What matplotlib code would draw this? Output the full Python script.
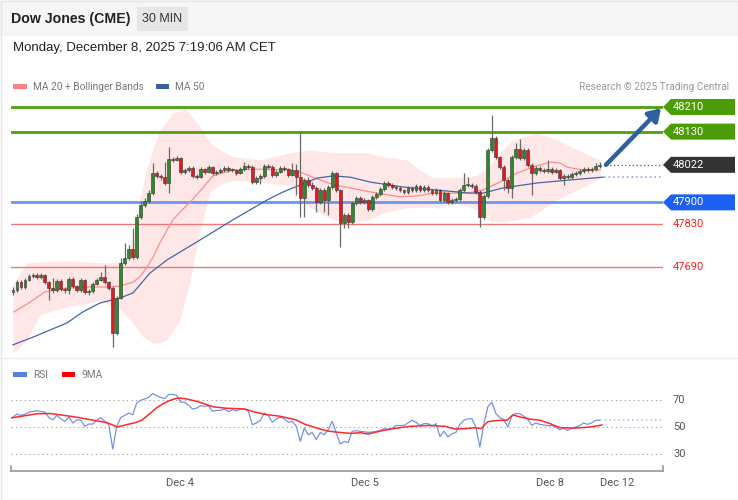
import numpy as np
import matplotlib
matplotlib.use("Agg")
import matplotlib.pyplot as plt
from matplotlib.patches import Rectangle, Polygon

plt.rcParams["font.family"] = ["Liberation Sans", "DejaVu Sans"]

# ---- price data (30 min candles) ----
first_open = 47608
closes = [47615, 47641, 47625, 47648, 47661, 47664, 47657, 47664, 47641, 47622,
          47615, 47644, 47618, 47615, 47651, 47628, 47615, 47648, 47609, 47612,
          47635, 47648, 47657, 47641, 47622, 47475, 47589, 47703, 47719, 47749,
          47722, 47852, 47891, 47904, 47930, 47995, 47986, 47982, 47963, 48041,
          48038, 48044, 47999, 48005, 48012, 47986, 47982, 48008, 47999, 48015,
          47995, 47999, 48005, 48012, 48005, 48005, 47995, 48008, 48018, 48015,
          47966, 47979, 47986, 48018, 48015, 47989, 47999, 48012, 48008, 47989,
          48005, 47982, 47914, 47973, 47957, 47947, 47901, 47940, 47908, 47950,
          47995, 47940, 47833, 47859, 47836, 47898, 47914, 47901, 47908, 47879,
          47918, 47927, 47944, 47963, 47957, 47950, 47947, 47940, 47934, 47947,
          47940, 47953, 47940, 47950, 47940, 47930, 47940, 47908, 47930, 47901,
          47908, 47911, 47940, 47957, 47957, 47953, 47934, 47852, 47921, 48070,
          48109, 48047, 48015, 47973, 47947, 48047, 48073, 48044, 48070, 48021,
          47995, 48012, 48005, 48002, 48008, 47999, 48005, 47979, 47986, 47982,
          47992, 47995, 48002, 48008, 48005, 48008, 48018, 48022]
highs = [47625, 47648, 47648, 47654, 47667, 47670, 47670, 47670, 47668, 47645,
         47655, 47650, 47650, 47625, 47658, 47657, 47632, 47654, 47652, 47620,
         47640, 47654, 47674, 47697, 47645, 47628, 47597, 47719, 47768, 47762,
         47817, 47862, 47904, 47914, 47940, 48028, 48002, 47992, 48031, 48080,
         48047, 48050, 48047, 48012, 48018, 48018, 47992, 48015, 48012, 48021,
         48018, 48005, 48012, 48018, 48018, 48012, 48010, 48015, 48031, 48025,
         48020, 47985, 47992, 48025, 48024, 48020, 48005, 48018, 48018, 48012,
         48028, 48025, 48129, 47980, 47982, 47965, 47952, 47947, 47947, 47957,
         48002, 48000, 47945, 47866, 47865, 47905, 47921, 47920, 47914, 47912,
         47924, 47934, 47950, 47970, 47970, 47962, 47957, 47953, 47945, 47953,
         47953, 47960, 47958, 47957, 47955, 47945, 47947, 47945, 47937, 47935,
         47914, 47918, 47947, 47995, 47982, 47962, 47960, 47940, 47928, 48078,
         48184, 48115, 48052, 48020, 47978, 48054, 48093, 48106, 48076, 48076,
         48028, 48018, 48018, 48012, 48038, 48015, 48012, 48010, 47992, 47992,
         47999, 48002, 48008, 48015, 48015, 48015, 48028, 48030]
lows = [47600, 47610, 47620, 47620, 47644, 47655, 47652, 47652, 47635, 47583,
        47607, 47610, 47612, 47607, 47603, 47622, 47608, 47610, 47602, 47600,
        47605, 47630, 47645, 47636, 47615, 47430, 47468, 47585, 47698, 47712,
        47716, 47715, 47846, 47885, 47898, 47925, 47978, 47972, 47955, 47930,
        48031, 48034, 47992, 47992, 48000, 47980, 47975, 47978, 47992, 47995,
        47989, 47989, 47995, 48000, 48000, 47999, 47989, 47992, 48002, 48008,
        47960, 47960, 47960, 47980, 48008, 47982, 47982, 47995, 48002, 47982,
        47985, 47925, 47852, 47852, 47950, 47940, 47869, 47895, 47869, 47860,
        47945, 47935, 47755, 47817, 47818, 47830, 47893, 47895, 47895, 47872,
        47873, 47912, 47922, 47938, 47950, 47944, 47940, 47934, 47927, 47928,
        47934, 47934, 47934, 47934, 47934, 47924, 47924, 47901, 47901, 47895,
        47895, 47901, 47905, 47934, 47950, 47947, 47927, 47820, 47845, 47915,
        48063, 48040, 48008, 47940, 47931, 47914, 48040, 48038, 48038, 48015,
        47924, 47989, 47999, 47995, 47995, 47992, 47995, 47973, 47957, 47976,
        47976, 47986, 47989, 47995, 47999, 47999, 48002, 48012]

# indicator lines (bar index, price)
ma20_idx = [0.25, 4.3, 8.0, 11.8, 16.8, 21.8, 24.3, 26.8, 30.1, 31.8, 33.6, 35.1, 36.8, 38.6,
            40.1, 41.9, 44.4, 46.9, 50.1, 55.1, 61.9, 69.4, 71.9, 76.9, 80.7, 84.5, 89.5,
            97, 101.3, 105.3, 113.8, 117.8, 122, 126.3, 130.3, 134.6, 137.1, 138.8, 142.9, 147.1]
ma20_val = [47544, 47576, 47609, 47618, 47625, 47625, 47625, 47628, 47641, 47658, 47690, 47722,
            47768, 47810, 47843, 47869, 47901, 47937, 47986, 48005, 48008, 48005, 47999, 47973,
            47956, 47947, 47934, 47918, 47921, 47930, 47930, 47940, 47966, 47995, 48015, 48031,
            48028, 48015, 48005, 48005]
upper_idx = [0, 3.5, 6.8, 14.3, 21.8, 26.8, 28.6, 30.1, 31.8, 33.6, 36.8, 40.1, 43.1, 46.9,
             49.4, 51.9, 55.1, 61.9, 69.4, 74.4, 79.4, 88.7, 92.7, 98.7, 102, 105.3, 112,
             117, 119.5, 122, 125.3, 131.3, 136.3, 141.4, 147.1]
upper_val = [47632, 47703, 47706, 47710, 47703, 47703, 47713, 47778, 47908, 48015, 48135, 48190,
             48204, 48145, 48093, 48064, 48048, 48038, 48061, 48070, 48061, 48061, 48048, 48038,
             48005, 47979, 47979, 47989, 48021, 48061, 48103, 48126, 48103, 48070, 48038]
lower_idx = [0, 3.5, 6, 7.5, 11.8, 16, 20, 24.3, 28.6, 30.1, 32.6, 35.1, 36.8, 38.6, 41.9,
             44.4, 46.9, 48.6, 50.1, 55.1, 61.9, 69.4, 71.9, 74.4, 80.2, 84.5, 88.7, 92.7,
             97, 105.3, 113.8, 116.3, 118.8, 122.8, 129.6, 136.3, 142.9, 147.1]
lower_val = [47411, 47453, 47518, 47550, 47560, 47566, 47576, 47589, 47528, 47508, 47462, 47443,
             47443, 47453, 47518, 47648, 47810, 47918, 47950, 47973, 47966, 47956, 47940, 47885,
             47843, 47836, 47843, 47866, 47882, 47885, 47901, 47885, 47843, 47836, 47852, 47908,
             47950, 47979]
ma50_idx = [0, 5, 13.5, 17.5, 21.8, 26.8, 30.1, 34.3, 38.6, 46.9, 55.1, 63.7, 67.7, 71.9,
            76.2, 80.2, 84.5, 89.5, 97.7, 106.3, 114.5, 117.8, 122.8, 131.3, 139.6, 147.9]
ma50_val = [47437, 47462, 47508, 47544, 47573, 47589, 47606, 47670, 47713, 47778, 47843, 47908,
            47934, 47956, 47979, 47986, 47982, 47966, 47950, 47940, 47930, 47930, 47947, 47963,
            47973, 47982]

# RSI per bar, 9MA
rsi = [57.5, 59.5, 58.6, 59.5, 61, 61.5, 62, 61.5, 61, 57,
       55.4, 58.6, 56, 54.2, 57.4, 53, 55.4, 55, 50.5, 52.2,
       52.2, 55, 57, 54.2, 51.7, 33.7, 50.5, 57, 58.6, 60.4,
       59, 67.8, 69.8, 70.7, 72, 74.7, 73.2, 72, 71, 74,
       74.2, 73.5, 68.3, 68.3, 66, 63.3, 64, 65.8, 65.3, 65.8,
       61.6, 62.3, 62.3, 63.3, 61.4, 62.8, 62, 63.3, 63.3, 61.6,
       51.7, 53, 55, 60.4, 58.4, 53.5, 56, 57.4, 56, 53.5,
       54.2, 50.5, 39.4, 49.3, 44.3, 46, 40.6, 46, 44.3, 48,
       54.2, 45.6, 37.4, 39.4, 38.5, 46.8, 47.3, 46.8, 46.5, 46,
       46.3, 46.8, 47.3, 48.8, 48.5, 49, 51.2, 51, 51.2, 53,
       55, 53.5, 51.2, 52.5, 52.5, 50.5, 52.5, 43, 47, 42.6,
       45, 46, 52, 55, 56, 56.2, 50, 35.2, 52, 65,
       68.5, 60, 57, 55.5, 50, 58, 60, 59.9, 58, 56,
       51.2, 53, 52, 51.5, 51, 51, 50, 48, 49, 47.5,
       49, 50, 51, 53, 52, 53, 55, 55]
ma9_idx = [-0.5, 6, 9.3, 11.8, 15.5, 19.3, 21.8, 23.8, 26.1, 28.1, 30.6, 32.3, 34.3, 36.1,
           38.1, 39.8, 41.4, 43.1, 46.1, 48.1, 50.1, 53.1, 58.1, 60.7, 63.2, 66.9, 70.7, 73.2,
           76.4, 78.9, 81.9, 84.5, 87, 89, 92, 95.7, 99.5, 104.5, 108.3, 110.8, 113.3, 115.8,
           117.3, 119, 122, 123.8, 125.3, 127, 129.6, 132.1, 134.6, 137.1, 140.9, 144.6, 147.6]
ma9_val = [56.7, 59.8, 60, 59, 57.5, 55.5, 54.2, 53, 50, 51.5, 53.2, 55, 60, 64.5,
           68, 70.2, 71.5, 71, 69, 67, 65, 64, 63.3, 61, 59.3, 58, 55.5, 52,
           49, 47, 46, 45.3, 45.8, 44.8, 47, 49, 50.5, 51.2, 50.5, 48.5, 48.8, 49.5,
           48.8, 54, 55, 55, 59, 57.5, 55.8, 55, 52.5, 49.5, 49.2, 50, 51.5]

# key levels
res_levels = [48210, 48130]
piv_level = 47900
sup_levels = [47830, 47690]
last_price = 48022
date_ticks = [41.9, 88.2, 134.6, 151.4]
date_labels = ["Dec 4", "Dec 5", "Dec 8", "Dec 12"]

W, H = 738, 500
fig = plt.figure(figsize=(W / 100, H / 100), dpi=100)

def fx(px):
    return px / W

def fy(py):
    return 1 - py / H

# background layer
bg = fig.add_axes([0, 0, 1, 1], zorder=0)
bg.set_xlim(0, W)
bg.set_ylim(H, 0)
bg.axis("off")
bg.add_patch(Rectangle((0, 0), W, 36, color="#f6f6f6", lw=0))
bg.add_patch(Rectangle((137, 7), 51, 24, color="#e6e6e6", lw=0))
bg.add_patch(Rectangle((0.5, 0.5), W - 1, H - 1, fill=False, ec="#e6e6e6", lw=1))
bg.plot([0, W], [358, 358], color="#eeeeee", lw=1)

# ---- price pane ----
ax = fig.add_axes([fx(11), fy(355), fx(663) - fx(11), (355 - 95) / H], zorder=2)
ax.set_facecolor("none")
ax.set_xlim(-0.5, 162.9)
ax.set_ylim(47404, 48249)
ax.axis("off")

band_col = "#ffe7e7"
ax.fill_between(upper_idx, np.interp(upper_idx, lower_idx, lower_val), upper_val, color=band_col, lw=0, zorder=1)
ax.fill_between(lower_idx, lower_val, np.interp(lower_idx, upper_idx, upper_val), color=band_col, lw=0, zorder=1)

for lv in res_levels:
    ax.axhline(lv, color="#52a010", lw=2, zorder=2)
ax.axhline(piv_level, color="#6a96f0", lw=2, zorder=2)
for lv in sup_levels:
    ax.axhline(lv, color="#f27878", lw=1, zorder=2)

ax.plot(ma20_idx, ma20_val, color="#ff8c8c", lw=0.9, zorder=3)
ax.plot(ma50_idx, ma50_val, color="#4466a8", lw=0.9, zorder=3)

n = len(closes)
x = np.arange(n)
c = np.array(closes, dtype=float)
o = np.concatenate([[first_open], c[:-1]])
hi = np.array(highs, dtype=float)
lo = np.array(lows, dtype=float)
up = c >= o
ax.vlines(x, lo, hi, color="#6a6a6a", lw=0.9, zorder=4)
body_lo = np.minimum(o, c)
body_h = np.maximum(np.abs(c - o), 3)
ax.bar(x[up], body_h[up], bottom=body_lo[up], width=0.72, color="#2b8a2b", ec="#333333", lw=0.4, zorder=5)
ax.bar(x[~up], body_h[~up], bottom=body_lo[~up], width=0.72, color="#e8171d", ec="#333333", lw=0.4, zorder=5)

ax.plot([n + 0.6, 162.9], [last_price, last_price], color="#555555", lw=0.9, ls=(0, (1, 2)), zorder=3)
ax.plot([n, 162.9], [ma50_val[-1], ma50_val[-1]], color="#7d9be0", lw=1.1, ls=(0, (1, 2)), zorder=3)

ax.annotate("", xy=(162.4, 48206), xytext=(n + 0.6, last_price),
            arrowprops=dict(arrowstyle="-|>,head_length=0.7,head_width=0.45", color="#2f5f9e",
                            lw=3.2, shrinkA=0, shrinkB=0), zorder=6)

# ---- RSI pane ----
rx = fig.add_axes([fx(11), fy(465), fx(663) - fx(11), 80 / H], zorder=2)
rx.set_facecolor("none")
rx.set_xlim(-0.5, 162.9)
rx.set_ylim(21.9, 81.1)
rx.axis("off")
for g in [30, 50, 70]:
    rx.axhline(g, color="#9a9a9a", lw=0.8, ls=(0, (1, 3)))
rx.plot(x, rsi, color="#7592e6", lw=0.9)
rx.plot(ma9_idx, ma9_val, color="#ff2a2a", lw=1.1)
rx.plot([n - 1, 162.9], [rsi[-1], rsi[-1]], color="#a9bdf0", lw=1.1, ls=(0, (1, 2)))

# ---- overlay: labels, tags, legends ----
ov = fig.add_axes([0, 0, 1, 1], zorder=10)
ov.set_facecolor("none")
ov.set_xlim(0, W)
ov.set_ylim(H, 0)
ov.axis("off")

def py_of(axes, val):
    return H - axes.transData.transform((0, val))[1]

def px_of(axes, idx):
    return axes.transData.transform((idx, 0))[0]

def tag(price, color):
    yy = py_of(ax, price)
    ov.add_patch(Polygon([(663, yy), (671, yy - 8), (735, yy - 8), (735, yy + 8), (671, yy + 8)],
                         closed=True, color=color, lw=0))
    ov.text(673, yy, f"{price}", color="white", fontsize=8, va="center", ha="left", family="Roboto")

for lv in res_levels:
    tag(lv, "#4c9c06")
tag(last_price, "#333333")
tag(piv_level, "#1c5ff2")
for lv in sup_levels:
    ov.text(673, py_of(ax, lv), f"{lv}", color="#ff1f1f", fontsize=8, va="center", ha="left", family="Roboto")

for g in [70, 50, 30]:
    ov.text(673, py_of(rx, g), f"{g}", color="#555555", fontsize=8, va="center", ha="left", family="Roboto")

ov.plot([11, 663], [471, 471], color="#9a9a9a", lw=1.2)
ov.plot([11, 11], [466, 471], color="#9a9a9a", lw=1.2)
ov.plot([663, 663], [466, 471], color="#9a9a9a", lw=1.2)
for t, lab in zip(date_ticks, date_labels):
    ov.text(px_of(rx, t), 483, lab, color="#555555", fontsize=8, ha="center", va="center", family="Roboto")

ov.text(11, 19, "Dow Jones (CME)", fontsize=10.2, fontweight="bold", color="#222222", va="center")
ov.text(162.5, 19, "30 MIN", fontsize=9, color="#333333", va="center", ha="center")
ov.text(13, 48, "Monday, December 8, 2025 7:19:06 AM CET", fontsize=9.5, color="#222222", va="center")

ov.add_patch(Rectangle((13, 84), 14, 4.5, color="#ff8080", lw=0))
ov.text(33, 86.5, "MA 20 + Bollinger Bands", fontsize=7.3, color="#777777", va="center", family="Roboto")
ov.add_patch(Rectangle((156, 84), 13, 4.5, color="#3a5fa0", lw=0))
ov.text(175, 86.5, "MA 50", fontsize=7.3, color="#777777", va="center", family="Roboto")
ov.text(729, 86.5, "Research \u00a9 2025 Trading Central", fontsize=7.3, color="#9a9a9a", va="center",
        ha="right", family="Roboto")

ov.add_patch(Rectangle((13, 372), 14, 4.5, color="#5b7fe0", lw=0))
ov.text(33, 374.5, "RSI", fontsize=7.3, color="#777777", va="center", family="Roboto")
ov.add_patch(Rectangle((62, 372), 13, 4.5, color="#ff0000", lw=0))
ov.text(82, 374.5, "9MA", fontsize=7.3, color="#777777", va="center", family="Roboto")

fig.savefig("out.png", dpi=100, facecolor="white")
